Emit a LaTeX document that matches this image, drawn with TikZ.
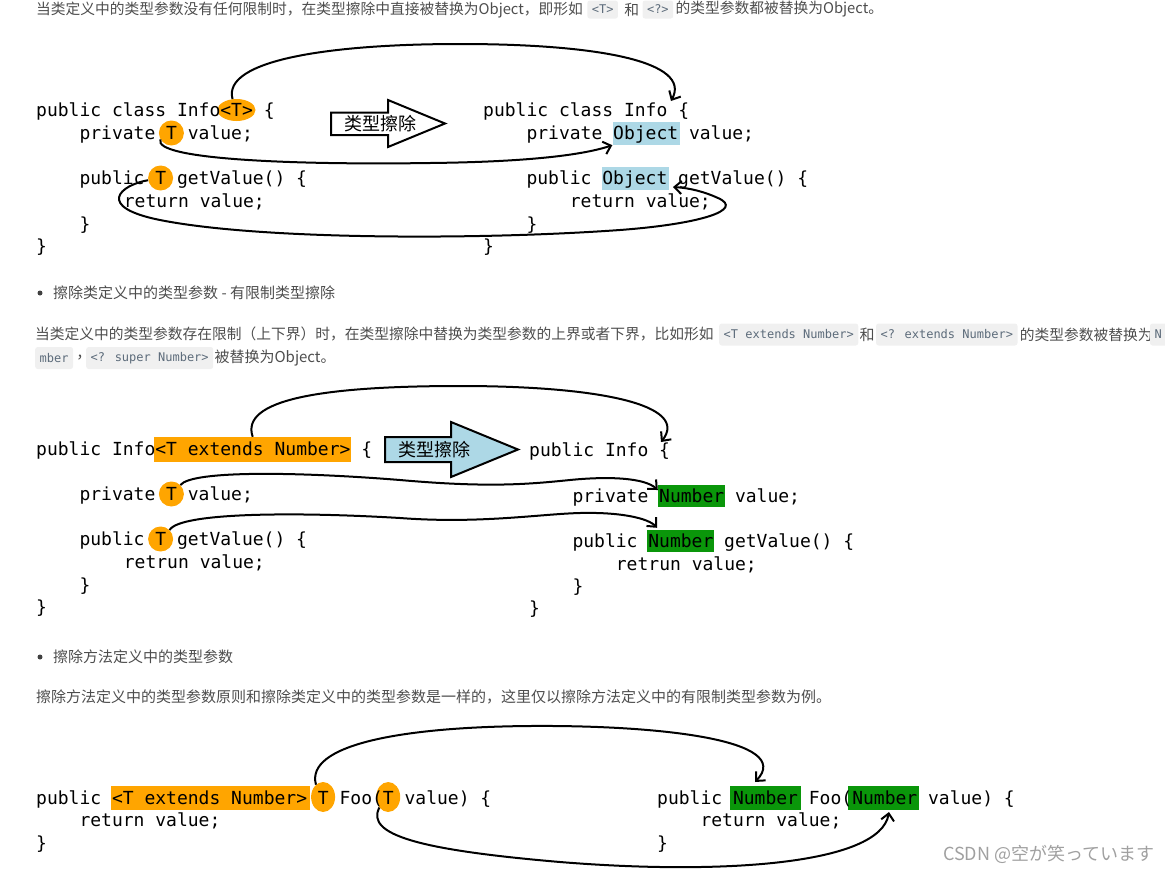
\documentclass[tikz,border=0pt]{standalone}
\usepackage{fontspec}
\usetikzlibrary{arrows.meta,calc,shapes.geometric}
\newfontfamily\codefont{DejaVu Sans Mono}
\newfontfamily\cjkfont{Noto Sans CJK SC}
\definecolor{orangeT}{HTML}{FFA500}
\definecolor{objblue}{HTML}{ADD8E6}
\definecolor{numgreen}{HTML}{0A960A}
\definecolor{prose}{HTML}{4D4D4D}
\definecolor{chipbg}{HTML}{F0F0F0}
\definecolor{chiptext}{HTML}{5C6B7A}
\definecolor{wmark}{HTML}{A0A0A0}
\newcommand\codeline[4]{\node[code] (#1) at (#2,#3+6.5) {#4};}
\begin{document}
\begin{tikzpicture}[x=1pt,y=-1pt,
  code/.style={font=\codefont\fontsize{18}{18}\selectfont, inner sep=0pt, anchor=base west, text=black},
  prose/.style={font=\cjkfont\fontsize{15}{15}\selectfont, inner sep=0pt, text=prose},
  prosenarrow/.style={font=\cjkfont\fontsize{14.75}{15}\selectfont, inner sep=0pt, text=prose},
  chip/.style={font=\codefont\fontsize{12}{12}\selectfont, text=chiptext, fill=chipbg, rounded corners=2.5pt, inner xsep=4.5pt, inner ysep=0pt, minimum height=22pt},
  tmark/.style={ellipse, fill=orangeT, inner sep=0pt, minimum width=25pt, minimum height=25pt},
  orect/.style={rectangle, fill=orangeT, inner sep=0pt},
  bluebox/.style={rectangle, fill=objblue, inner sep=0pt, minimum width=67pt, minimum height=23pt},
  greenbox/.style={rectangle, fill=numgreen, inner sep=0pt, minimum width=67pt, minimum height=22pt},
  blockarrow/.style={draw=black, line width=2pt, line join=miter},
  arrowtext/.style={font=\cjkfont\fontsize{18}{18}\selectfont, inner sep=0pt, text=black},
  conn/.style={draw=black, line width=2pt, -{Straight Barb[length=7pt,width=13pt,line width=2pt]}},
  bullet/.style={circle, fill=black!75, inner sep=0pt, minimum size=5pt}
]
\useasboundingbox (0,0) rectangle (1165,873);
\begin{scope}
\clip (0,0) rectangle (1165,873);

% ---------- top line ----------
\node[prosenarrow, anchor=base west] (p1a) at (36,14) {当类定义中的类型参数没有任何限制时，在类型擦除中直接被替换为Object，即形如};
\node[chip, anchor=west, minimum height=18pt] (p1b) at ($(p1a.east)+(4,0)$) {<T>};
\node[prosenarrow, anchor=west] (p1c) at ($(p1b.east)+(6,0)$) {和};
\node[chip, anchor=west, minimum height=18pt] (p1d) at ($(p1c.east)+(3,0)$) {<?>};
\node[prosenarrow, anchor=west] (p1e) at ($(p1d.east)+(2,0)$) {的类型参数都被替换为Object。};

% ---------- section 1 ----------
\node[tmark, minimum width=38pt, minimum height=22pt] (s1ta) at (236.5,110) {};
\node[tmark] (s1tb) at (171.4,133) {};
\node[tmark] (s1tc) at (160.6,178) {};
\node[bluebox] (s1oa) at (646,133.5) {};
\node[bluebox] (s1ob) at (635,178.5) {};

\codeline{s1l1}{36}{110}{public class Info<T> \{}
\codeline{s1l2}{79.3}{133}{private T value;}
\codeline{s1l3}{79.3}{178}{public T getValue() \{}
\codeline{s1l4}{123.7}{201}{return value;}
\codeline{s1l5}{79.3}{224}{\}}
\codeline{s1l6}{36}{246}{\}}

\codeline{s1r1}{483}{110}{public class Info \{}
\codeline{s1r2}{526.3}{133}{private Object value;}
\codeline{s1r3}{526.3}{178}{public Object getValue() \{}
\codeline{s1r4}{569.7}{201}{return value;}
\codeline{s1r5}{526.3}{224}{\}}
\codeline{s1r6}{483}{246}{\}}

\path[blockarrow, fill=white] (331,112.5) -- (388,112.5) -- (388,100) -- (445,123.5) -- (388,147) -- (388,135) -- (331,135) -- cycle;
\node[arrowtext] (s1arr) at (380,124) {类型擦除};

\coordinate (s1e1) at (671,101);
\coordinate (s1e2) at (673,187);
\draw[conn] (s1ta.110) .. controls (222,60) and (330,44) .. (460,44) .. controls (600,44) and (692,62) .. (s1e1);
\draw[conn] (s1tb.210) .. controls (152,160) and (300,165) .. (430,163) .. controls (520,162) and (580,156) .. (s1oa.south west);
\draw[conn] (s1tc.190) .. controls (120,185) and (95,207) .. (160,220) .. controls (260,240) and (480,240) .. (620,230) .. controls (700,224) and (745,210) .. (718,198) .. controls (705,192) and (690,188) .. (s1e2);

% ---------- bullet 1 & paragraph 2 ----------
\node[bullet] (b1) at (40,293) {};
\node[prose, anchor=west] (b1t) at (53,293) {擦除类定义中的类型参数 - 有限制类型擦除};

\node[prosenarrow, anchor=base west] (p2a) at (35,339.5) {当类定义中的类型参数存在限制（上下界）时，在类型擦除中替换为类型参数的上界或者下界，比如形如};
\node[chip, anchor=west] (p2b) at (719,334.5) {<T extends Number>};
\node[prose, anchor=west] (p2c) at ($(p2b.east)+(1,0)$) {和};
\node[chip, anchor=west] (p2d) at ($(p2c.east)+(1,0)$) {<? extends Number>};
\node[prosenarrow, anchor=west] (p2e) at ($(p2d.east)+(2,0)$) {的类型参数被替换为};
\fill[chipbg, rounded corners=2.5pt] (1150,323.5) rectangle (1180,345.5);
\node[font=\codefont\fontsize{12}{12}\selectfont, text=chiptext, inner sep=0pt, anchor=west] (p2f) at (1154.5,334.5) {N};
\node[chip, anchor=west] (p2g) at (35,358) {mber};
\node[prose, anchor=west] (p2h) at ($(p2g.east)+(3,0)$) {，};
\node[chip, anchor=west] (p2i) at (86,358) {<? super Number>};
\node[prose, anchor=west] (p2j) at ($(p2i.east)+(1,0)$) {被替换为Object。};

% ---------- section 2 ----------
\node[orect, minimum width=197pt, minimum height=25pt] (s2tr) at (252.7,449.5) {};
\node[tmark] (s2tb) at (171.4,494) {};
\node[tmark] (s2tc) at (160.6,539) {};
\node[greenbox] (s2na) at (691.5,496) {};
\node[greenbox] (s2nb) at (680.7,541) {};

\codeline{s2l1}{36}{449}{public Info<T extends Number> \{}
\codeline{s2l2}{79.3}{494}{private T value;}
\codeline{s2l3}{79.3}{539}{public T getValue() \{}
\codeline{s2l4}{123.7}{562}{retrun value;}
\codeline{s2l5}{79.3}{585}{\}}
\codeline{s2l6}{36}{607}{\}}

\codeline{s2r1}{529}{450}{public Info \{}
\codeline{s2r2}{572.3}{496}{private Number value;}
\codeline{s2r3}{572.3}{541}{public Number getValue() \{}
\codeline{s2r4}{615.7}{564}{retrun value;}
\codeline{s2r5}{572.3}{586}{\}}
\codeline{s2r6}{529}{608}{\}}

\path[blockarrow, fill=objblue] (385,437) -- (451,437) -- (451,422) -- (518,449.5) -- (451,477) -- (451,462) -- (385,462) -- cycle;
\node[arrowtext] (s2arr) at (434,449.5) {类型擦除};

\coordinate (s2e1) at (661,442);
\draw[conn] (s2tr.north) .. controls (240,400) and (320,386) .. (460,386) .. controls (600,386) and (690,405) .. (s2e1);
\draw[conn] (s2tb.45) .. controls (192,470) and (300,472) .. (400,480) .. controls (490,488) and (530,484) .. (570,480) .. controls (610,476) and (645,478) .. ($(s2na.west)+(0,-6)$);
\draw[conn] (s2tc.45) .. controls (180,512) and (300,512) .. (400,518) .. controls (480,524) and (540,514) .. (580,513) .. controls (620,512) and (648,518) .. ($(s2nb.north west)+(10,-2)$);

% ---------- bullet 2 & paragraph 3 ----------
\node[bullet] (b2) at (40,657) {};
\node[prose, anchor=west] (b2t) at (53,657) {擦除方法定义中的类型参数};
\node[prose, anchor=west] (p3) at (36,697) {擦除方法定义中的类型参数原则和擦除类定义中的类型参数是一样的，这里仅以擦除方法定义中的有限制类型参数为例。};

% ---------- section 3 ----------
\node[orect, minimum width=199pt, minimum height=24pt] (s3tr) at (210,798) {};
\node[tmark, minimum width=24pt, minimum height=30pt] (s3ta) at (323.1,797) {};
\node[tmark, minimum width=24pt, minimum height=30pt] (s3tb) at (388.2,797) {};
\node[greenbox, minimum width=71pt, minimum height=24pt] (s3na) at (765,798) {};
\node[greenbox, minimum width=71pt, minimum height=24pt] (s3nb) at (883,798) {};

\codeline{s3l1}{36}{798}{public <T extends Number> T Foo(T value) \{}
\codeline{s3l2}{79.3}{820}{return value;}
\codeline{s3l3}{36}{843}{\}}

\codeline{s3r1}{657}{798}{public Number Foo(Number value) \{}
\codeline{s3r2}{700.3}{820}{return value;}
\codeline{s3r3}{657}{843}{\}}

\coordinate (s3e1) at (755,782);
\coordinate (s3e2) at (889,812);
\draw[conn] (s3ta.120) .. controls (305,745) and (400,727) .. (530,726) .. controls (660,725) and (795,740) .. (s3e1);
\draw[conn] (s3tb.230) .. controls (365,835) and (420,850) .. (560,862) .. controls (720,875) and (880,865) .. (s3e2);

% ---------- watermark ----------
\node[font=\cjkfont\fontsize{18}{18}\selectfont, text=wmark, inner sep=0pt, anchor=west] (wm) at (943,854) {CSDN @空が笑っています};
\end{scope}
\end{tikzpicture}
\end{document}
